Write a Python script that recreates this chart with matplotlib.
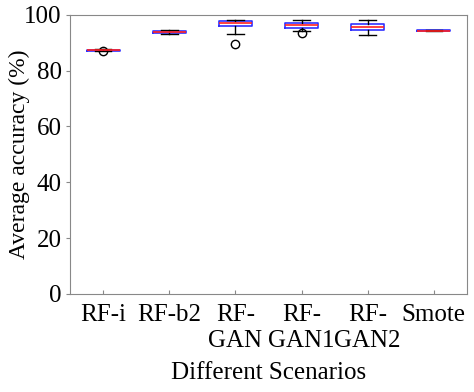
import matplotlib
matplotlib.use("Agg")
import matplotlib.pyplot as plt

categories = ["RF-i", "RF-b2", "RF-\nGAN", "RF-\nGAN1", "RF-\nGAN2", "Smote"]
whis_lo = [87.0, 93.2, 93.0, 94.2, 92.6, 94.2]
q1 = [87.1, 93.4, 96.0, 95.4, 94.6, 94.2]
medians = [87.3, 93.8, 97.0, 96.2, 95.7, 94.3]
q3 = [87.5, 94.2, 97.9, 96.9, 96.6, 94.4]
whis_hi = [87.6, 94.4, 98.0, 98.1, 98.0, 94.4]
fliers = [[86.9], [], [89.5], [93.4], [], []]
yticks = [0, 20, 40, 60, 80, 100]

plt.rcParams['font.family'] = ['Liberation Serif', 'DejaVu Serif']
fig = plt.figure(figsize=(4.74, 3.92), dpi=100)
ax = fig.add_axes([0.148, 0.25, 0.837, 0.7125])

stats = []
for i, c in enumerate(categories):
    stats.append(dict(label=c, med=medians[i], q1=q1[i], q3=q3[i],
                      whislo=whis_lo[i], whishi=whis_hi[i], fliers=fliers[i]))

ax.bxp(stats, positions=range(1, len(categories) + 1), widths=0.5,
       boxprops=dict(color='#3030ff', linewidth=1.2),
       medianprops=dict(color='#ff2020', linewidth=1.2),
       whiskerprops=dict(color='black', linewidth=1.0),
       capprops=dict(color='black', linewidth=1.0),
       capwidths=0.25,
       flierprops=dict(marker='o', markerfacecolor='none', markeredgecolor='black',
                       markersize=6, markeredgewidth=1.0))

ax.set_xlim(0.5, len(categories) + 0.5)
ax.set_ylim(0, 100)
ax.set_yticks(yticks)
ax.set_xticks(range(1, len(categories) + 1))
ax.set_xticklabels(categories, fontsize=18, linespacing=1.25)
ax.tick_params(axis='y', labelsize=18, direction='out', length=3, color='#888888', pad=3)
ax.tick_params(axis='x', direction='in', length=3, color='#888888', pad=7)
for s in ax.spines.values():
    s.set_color('#888888')
ax.set_ylabel("Average accuracy (%)", fontsize=17)
ax.yaxis.set_label_coords(-0.10, 0.5)
ax.set_xlabel("Different Scenarios", fontsize=18, labelpad=7)

fig.savefig("out.png", dpi=100)
